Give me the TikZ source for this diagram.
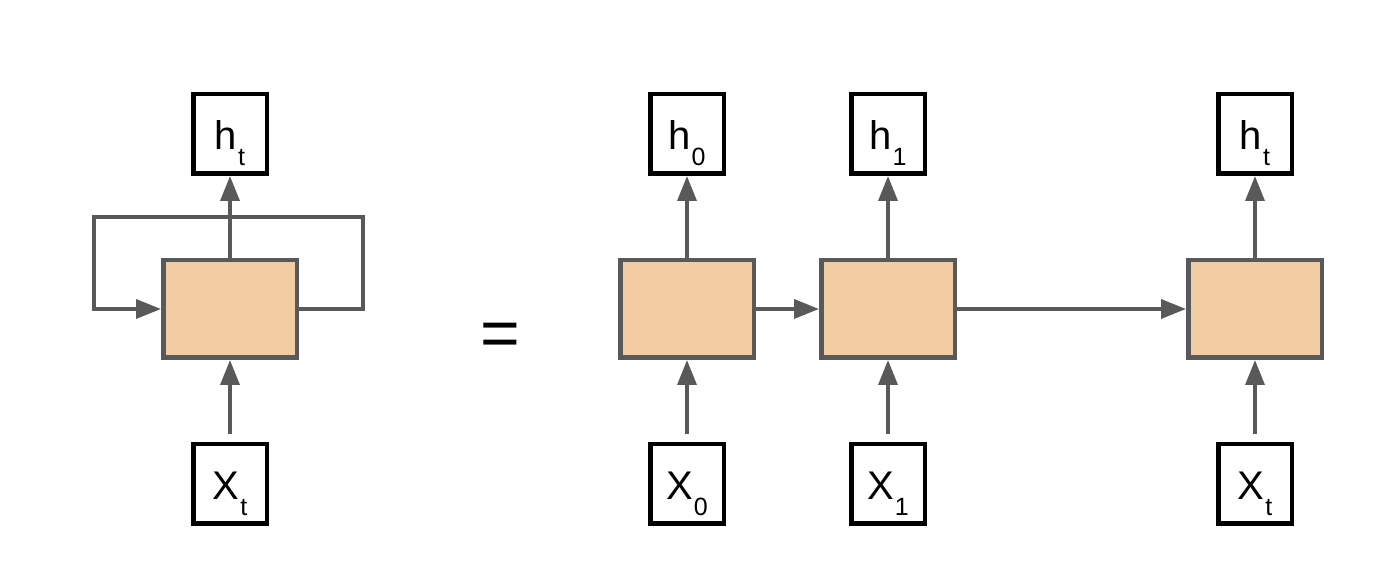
\documentclass[tikz,border=0pt]{standalone}
\usepackage{fontspec}
\setmainfont{Liberation Sans}
\usepackage{tikz}
\usetikzlibrary{arrows.meta}
\definecolor{cellfill}{HTML}{F2CCA2}
\definecolor{linegray}{HTML}{595959}
\newcommand{\sublbl}[2]{#1\kern1pt\raisebox{-16pt}{\fontsize{25}{25}\selectfont #2}}

\begin{document}
\begin{tikzpicture}[x=1pt, y=1pt, node distance=175pt]
        % Define block styles
        \tikzstyle{cell} = [rectangle, draw=linegray, line width=4.5pt, fill=cellfill,
                            minimum width=133.5pt, minimum height=97.5pt]
        \tikzstyle{iobox} = [rectangle, draw=black, line width=4.5pt, fill=white, inner sep=0pt,
                             minimum width=73.5pt, minimum height=79.5pt, text height=32pt, text depth=0pt,
                             font=\fontsize{40}{42}\selectfont]
        \tikzstyle{arrow} = [draw=linegray, line width=3.5pt, -{Triangle[length=25pt, width=19pt]}]
        \useasboundingbox (0,0) rectangle (1400,588);

        % Folded network
        \node (cellL) [cell] at (230,279) {};
        \node (hL) [iobox, above of=cellL] {\sublbl{h}{t}};
        \node (xL) [iobox, below of=cellL] {\sublbl{X}{t}};

        \node (equals) at (500,248) {\fontsize{68}{70}\selectfont =};

        % Unrolled network
        \node (cell0) [cell] at (687,279) {};
        \node (cell1) [cell] at (888,279) {};
        \node (cellT) [cell] at (1255,279) {};
        \node (h0) [iobox, above of=cell0] {\sublbl{h}{0}};
        \node (h1) [iobox, above of=cell1] {\sublbl{h}{1}};
        \node (hT) [iobox, above of=cellT] {\sublbl{h}{t}};
        \node (x0) [iobox, below of=cell0] {\sublbl{X}{0}};
        \node (x1) [iobox, below of=cell1] {\sublbl{X}{1}};
        \node (xT) [iobox, below of=cellT] {\sublbl{X}{t}};

        % Arrows
        \draw [arrow] (cellL.east) -- ++(64,0) -- ++(0,92) -- ++(-269,0) -- ++(0,-92) -- (cellL.west);
        \draw [arrow] (cellL) -- (hL);
        \draw [arrow, shorten <=8pt] (xL) -- (cellL);

        \draw [arrow] (cell0) -- (h0);
        \draw [arrow] (cell1) -- (h1);
        \draw [arrow] (cellT) -- (hT);
        \draw [arrow, shorten <=8pt] (x0) -- (cell0);
        \draw [arrow, shorten <=8pt] (x1) -- (cell1);
        \draw [arrow, shorten <=8pt] (xT) -- (cellT);
        \draw [arrow] (cell0) -- (cell1);
        \draw [arrow] (cell1) -- (cellT);
    \end{tikzpicture}
\end{document}
